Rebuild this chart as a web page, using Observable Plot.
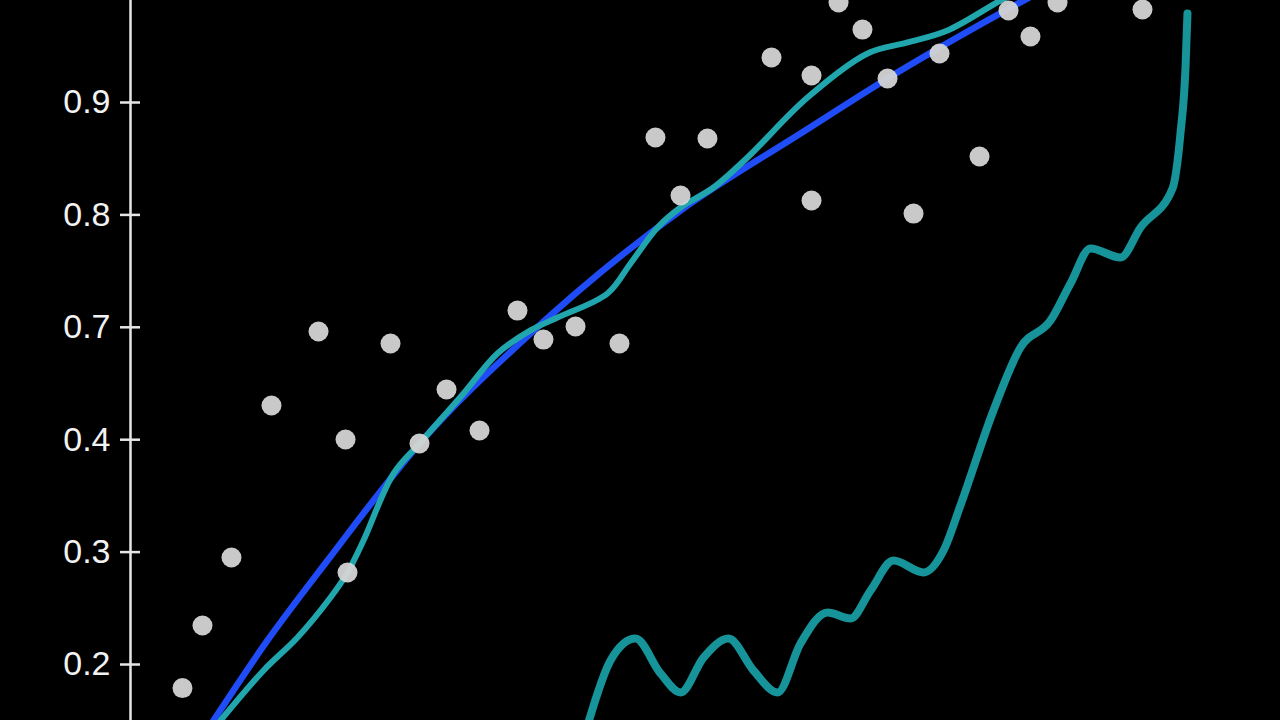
<!DOCTYPE html>
<html>
<head>
<meta charset="utf-8">
<script src="https://cdn.jsdelivr.net/npm/d3@7"></script>
<script src="https://cdn.jsdelivr.net/npm/@observablehq/plot@0.6"></script>
<style>
  html, body { margin: 0; padding: 0; background: #000; }
  #chart { width: 1280px; height: 720px; overflow: hidden; }
</style>
</head>
<body>
<div id="chart"></div>
<script>
// Y tick positions and their (as-printed) labels
const tickValues = [0.2, 0.3, 0.4, 0.5, 0.6, 0.7];
const tickLabels = ["0.2", "0.3", "0.4", "0.7", "0.8", "0.9"];

// Scatter points
const pointX = [4.52, 6.26, 8.78, 12.26, 16.35, 18.70, 18.87, 22.61, 25.13, 27.48, 30.35, 33.65, 35.91, 38.70, 42.52, 45.65, 47.83, 50.17, 55.74, 59.22, 59.22, 61.57, 63.65, 65.83, 68.09, 70.35, 73.83, 76.35, 78.26, 80.61, 88.0];
const pointY = [0.179, 0.2347, 0.2952, 0.4304, 0.4963, 0.4002, 0.2819, 0.4856, 0.3966, 0.4447, 0.4082, 0.5149, 0.4891, 0.5007, 0.4856, 0.6689, 0.6173, 0.6680, 0.7400, 0.7240, 0.6128, 0.7890, 0.7649, 0.7214, 0.6012, 0.7436, 0.6520, 0.7819, 0.7587, 0.7890, 0.7827];

// Blue fit line
const blueX = [7.22, 11.91, 17.13, 25.13, 34.78, 47.83, 58.26, 65.83, 77.65, 80.87];
const blueY = [0.1502, 0.2214, 0.2925, 0.3966, 0.4945, 0.6039, 0.6724, 0.7214, 0.7907, 0.8085];

// Teal smooth line (upper)
const tealX = [7.83, 11.57, 14.52, 17.39, 18.87, 20.26, 22.87, 25.13, 28.96, 31.91, 34.78, 37.13, 41.48, 43.48, 45.83, 47.83, 50.70, 53.65, 58.87, 64.09, 67.57, 71.04, 75.65, 78.26];
const tealY = [0.1502, 0.1947, 0.2240, 0.2596, 0.2819, 0.3103, 0.3699, 0.3966, 0.4411, 0.4767, 0.4972, 0.5087, 0.5301, 0.5568, 0.5888, 0.6066, 0.6244, 0.6511, 0.7044, 0.7436, 0.7534, 0.7641, 0.7907, 0.8041];

// Wavy teal line (lower)
const waveX = [39.74, 41.74, 43.91, 46.09, 47.83, 49.83, 52.0, 54.17, 56.26, 58.26, 60.61, 62.61, 64.35, 66.35, 68.96, 70.70, 72.17, 75.04, 77.39, 80.0, 81.74, 83.48, 86.09, 87.83, 90.61, 91.30, 91.74, 91.91];
const waveY = [0.1457, 0.2036, 0.2231, 0.1920, 0.1751, 0.2062, 0.2231, 0.1947, 0.1751, 0.2187, 0.2463, 0.2409, 0.2658, 0.2925, 0.2819, 0.3014, 0.3415, 0.4260, 0.4820, 0.5060, 0.5390, 0.5701, 0.5621, 0.5888, 0.6235, 0.6724, 0.7311, 0.7792];

const zip = (xs, ys) => xs.map((x, i) => ({x, y: ys[i]}));
const points = zip(pointX, pointY);
const blue = zip(blueX, blueY);
const teal = zip(tealX, tealY);
const wave = zip(waveX, waveY);

const chart = Plot.plot({
  width: 1280,
  height: 720,
  marginLeft: 130,
  marginRight: 0,
  marginTop: 0,
  marginBottom: 0,
  style: {background: "#000", color: "#f0f0f0", fontFamily: "Liberation Sans, Arial, sans-serif", overflow: "hidden"},
  x: {domain: [0, 100], axis: null},
  y: {domain: [0.15018, 0.79075], axis: null},
  marks: [
    Plot.ruleX([0], {stroke: "#e6e6e6", strokeWidth: 2.5}),
    Plot.axisY({
      ticks: tickValues,
      tickFormat: (d) => tickLabels[tickValues.indexOf(d)],
      tickSize: 20,
      dx: 10,
      tickPadding: 10,
      stroke: "#e6e6e6",
      strokeWidth: 2.5,
      fill: "#f2f2f2",
      fontSize: 34,
      label: null
    }),
    Plot.line(blue, {x: "x", y: "y", curve: "monotone-x", stroke: "#1f4cf7", strokeWidth: 6.5, strokeLinecap: "round"}),
    Plot.line(teal, {x: "x", y: "y", curve: "catmull-rom", stroke: "#21a6ad", strokeWidth: 6, strokeLinecap: "round"}),
    Plot.line(wave, {x: "x", y: "y", curve: "monotone-x", stroke: "#17939a", strokeWidth: 8, strokeLinecap: "round"}),
    Plot.dot(points, {x: "x", y: "y", r: 10, fill: "#d4d4d4", fillOpacity: 0.95, stroke: "none"})
  ]
});
document.getElementById("chart").appendChild(chart);
</script>
</body>
</html>
